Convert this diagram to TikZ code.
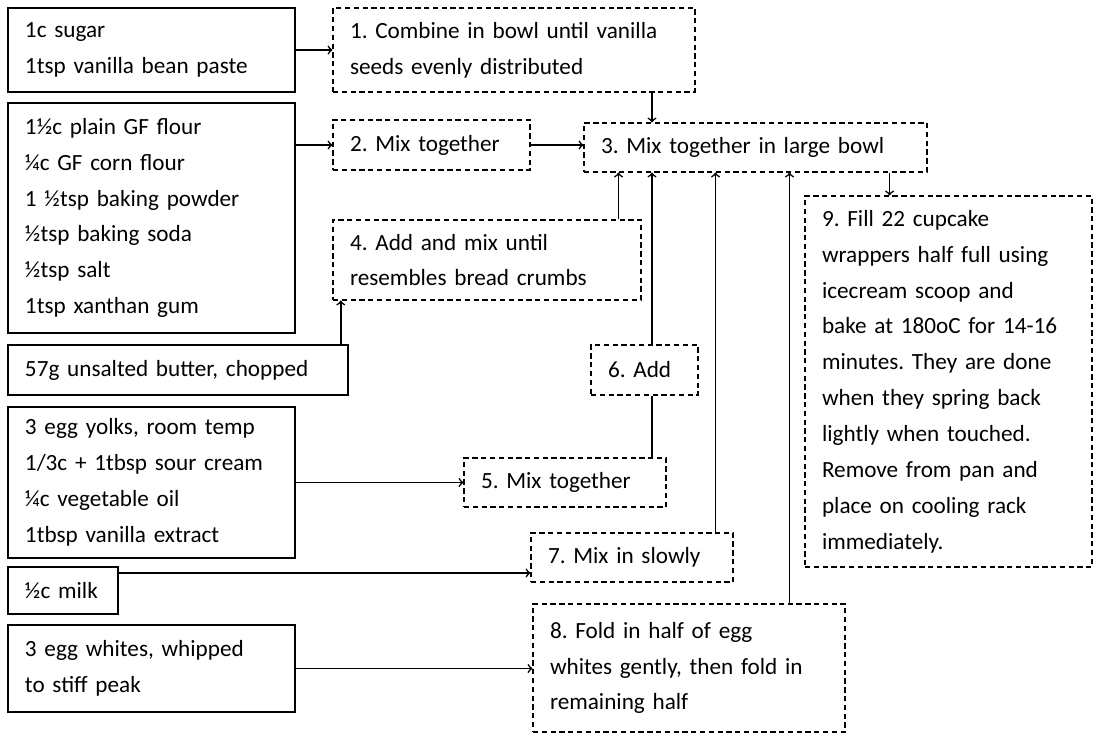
\documentclass[tikz,border=0pt]{standalone}
\usepackage{fontspec}
\setmainfont{Carlito}
\frenchspacing
\usetikzlibrary{calc}
\begin{document}
\begin{tikzpicture}[
    item/.style={draw, line width=0.9pt, inner xsep=0.34cm, inner ysep=0pt, align=left, font=\fontsize{13.2}{20.4}\selectfont},
    task/.style={item, densely dashed, line width=0.6pt},
    link/.style={->, line width=0.9pt}]
    \useasboundingbox (0,0) rectangle (22,-14.84);
    % ingredients
    \node[item, text width=5.06cm, minimum height=1.68cm] (sa) at (3.03,-1.0) {1c sugar\\1tsp vanilla bean paste};
    \node[item, text width=5.06cm, minimum height=4.6cm] (sb) at (3.03,-4.36) {1½c plain GF flour\\¼c GF corn flour\\1 ½tsp baking powder\\½tsp baking soda\\½tsp salt\\1tsp xanthan gum};
    \node[item, text width=6.12cm, minimum height=1.0cm] (sc) at (3.56,-7.4) {57g unsalted butter, chopped};
    \node[item, text width=5.06cm, minimum height=3.02cm] (sd) at (3.03,-9.65) {3 egg yolks, room temp\\1/3c + 1tbsp sour cream\\¼c vegetable oil\\1tbsp vanilla extract};
    \node[item, text width=1.52cm, minimum height=0.94cm] (se) at (1.26,-11.81) {½c milk};
    \node[item, text width=5.06cm, minimum height=1.74cm] (sf) at (3.03,-13.37) {3 egg whites, whipped\\to stiff peak};
    % steps
    \node[task, text width=6.56cm, minimum height=1.68cm] (s1) at (10.28,-1.0) {1. Combine in bowl until vanilla\\seeds evenly distributed};
    \node[task, text width=3.26cm, minimum height=1.0cm] (s2) at (8.63,-2.9) {2. Mix together};
    \node[task, text width=6.18cm, minimum height=0.98cm] (s3) at (15.11,-2.95) {3. Mix together in large bowl};
    \node[task, text width=5.48cm, minimum height=1.6cm] (s4) at (9.74,-5.2) {4. Add and mix until\\resembles bread crumbs};
    \node[task, text width=3.36cm, minimum height=0.98cm] (s5) at (11.3,-9.65) {5. Mix together};
    \node[task, text width=1.46cm, minimum height=1.0cm] (s6) at (12.89,-7.4) {6. Add};
    \node[task, text width=3.36cm, minimum height=0.98cm] (s7) at (12.64,-11.15) {7. Mix in slowly};
    \node[task, text width=5.56cm, minimum height=2.56cm] (s8) at (13.78,-13.36) {8. Fold in half of egg\\whites gently, then fold in\\remaining half};
    \node[task, text width=5.06cm, minimum height=7.42cm] (s9) at (18.97,-7.63) {9. Fill 22 cupcake\\wrappers half full using\\icecream scoop and\\bake at 180oC for 14-16\\minutes. They are done\\when they spring back\\lightly when touched.\\Remove from pan and\\place on cooling rack\\immediately.};
    % connectors
    \coordinate (c6) at ([xshift=0.15cm]s6.north);
    \draw[link] (sa.east) -- (s1.west);
    \draw[link] (sb.east |- s2.west) -- (s2.west);
    \draw[link] (s2.east) -- (s2.east -| s3.west);
    \draw[link] (s1.south -| c6) -- (c6 |- s3.north);
    \draw[link] ([xshift=-0.46cm]s4.north east) -- ([xshift=-0.46cm]s4.north east |- s3.south);
    \draw[link] ([xshift=-0.16cm]sc.north east) -- ([xshift=-0.16cm]sc.north east |- s4.south);
    \draw[line width=0.9pt] (s5.north -| c6) -- (s6.south -| c6);
    \draw[link] (c6) -- (c6 |- s3.south);
    \draw[link] (sd.east) -- (sd.east -| s5.west);
    \draw[link] ([xshift=-0.36cm]s7.north east) -- ([xshift=-0.36cm]s7.north east |- s3.south);
    \draw[link] ([yshift=0.35cm]se.east) -- ([yshift=0.35cm]se.east -| s7.west);
    \draw[link] ([xshift=-1.12cm]s8.north east) -- ([xshift=-1.12cm]s8.north east |- s3.south);
    \draw[link] (sf.east) -- (sf.east -| s8.west);
    \draw[link] ([xshift=-0.76cm]s3.south east) -- ([xshift=-0.76cm]s3.south east |- s9.north);
\end{tikzpicture}
\end{document}
